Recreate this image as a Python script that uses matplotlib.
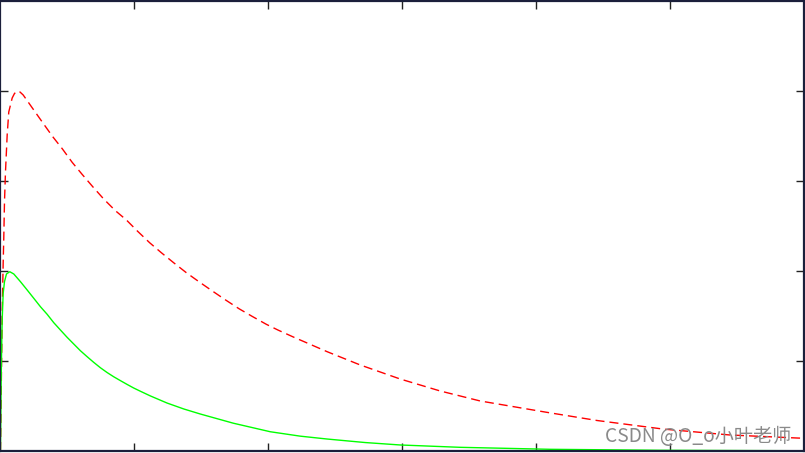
import matplotlib
matplotlib.use("Agg")
import matplotlib.pyplot as plt

# values (x in tick units 0..6, y in tick units 0..5)
red_t = [0, 0.0127, 0.0201, 0.0246, 0.0299, 0.0373, 0.0500, 0.0619, 0.0873, 0.1045,
         0.1246, 0.1455, 0.1694, 0.2485, 0.3187, 0.3903, 0.4627, 0.5351, 0.6097, 0.6888,
         0.7709, 0.8582, 0.9403, 1.0224, 1.1142, 1.2015, 1.2933, 1.3881, 1.4851, 1.5821,
         1.6813, 1.7813, 1.8784, 1.9851, 2.0724, 2.1866, 2.4403, 2.6866, 2.9851, 3.2836,
         3.5821, 3.9328, 4.0672, 4.4552, 4.9478, 5.4478, 5.9552, 6.0]
red_c = [0, 1.533, 2.089, 2.367, 2.767, 3.100, 3.511, 3.767, 3.922, 3.972,
         4.000, 3.989, 3.956, 3.789, 3.641, 3.492, 3.356, 3.208, 3.074, 2.937,
         2.800, 2.670, 2.567, 2.444, 2.314, 2.203, 2.092, 1.981, 1.878, 1.778,
         1.678, 1.581, 1.497, 1.408, 1.344, 1.267, 1.103, 0.956, 0.800, 0.667,
         0.556, 0.467, 0.433, 0.339, 0.244, 0.178, 0.144, 0.142]

green_t = [0, 0.0052, 0.0097, 0.0127, 0.0201, 0.0299, 0.0448, 0.0694, 0.0993, 0.1493,
           0.1993, 0.2485, 0.2985, 0.3485, 0.3978, 0.4478, 0.4978, 0.5470, 0.5970, 0.6470,
           0.6963, 0.7463, 0.7963, 0.8455, 0.8955, 0.9455, 0.9948, 1.0448, 1.1194, 1.2440,
           1.3690, 1.4925, 1.7388, 2.0149, 2.2388, 2.4403, 2.7239, 2.9851, 3.4328, 4.1045,
           4.9254, 6.0]
green_c = [0, 0.789, 1.233, 1.456, 1.752, 1.881, 1.967, 1.992, 1.967, 1.881,
           1.789, 1.697, 1.603, 1.519, 1.426, 1.344, 1.263, 1.189, 1.114, 1.048,
           0.985, 0.925, 0.872, 0.825, 0.782, 0.740, 0.700, 0.664, 0.612, 0.533,
           0.467, 0.411, 0.309, 0.214, 0.165, 0.133, 0.094, 0.067, 0.041, 0.019,
           0.008, 0.003]

xticks = [1, 2, 3, 4, 5]
yticks = [1, 2, 3, 4]

fig = plt.figure(figsize=(8.05, 4.53), dpi=100)
ax = fig.add_axes([0.0006, 0.0044, 0.998, 0.9934])

ax.plot(red_t, red_c, color="#ff0000", lw=1.0, linestyle=(0, (6.5, 3.6)))
ax.plot(green_t, green_c, color="#00ff00", lw=1.0)

ax.set_xlim(0, 6)
ax.set_ylim(0, 5)
ax.set_xticks(xticks)
ax.set_yticks(yticks)
ax.tick_params(direction="in", length=6, width=1, color="#222222",
               top=True, right=True, labelbottom=False, labelleft=False)
for s in ax.spines.values():
    s.set_color("#1b1f3b")
    s.set_linewidth(1.6)

fig.text(0.751, 0.025, "CSDN @O_o小叶老师", fontsize=13.8, color="#8a8a8a",
         family=["Noto Sans CJK SC", "DejaVu Sans"], ha="left", va="baseline")

fig.savefig("out.png", dpi=100)
